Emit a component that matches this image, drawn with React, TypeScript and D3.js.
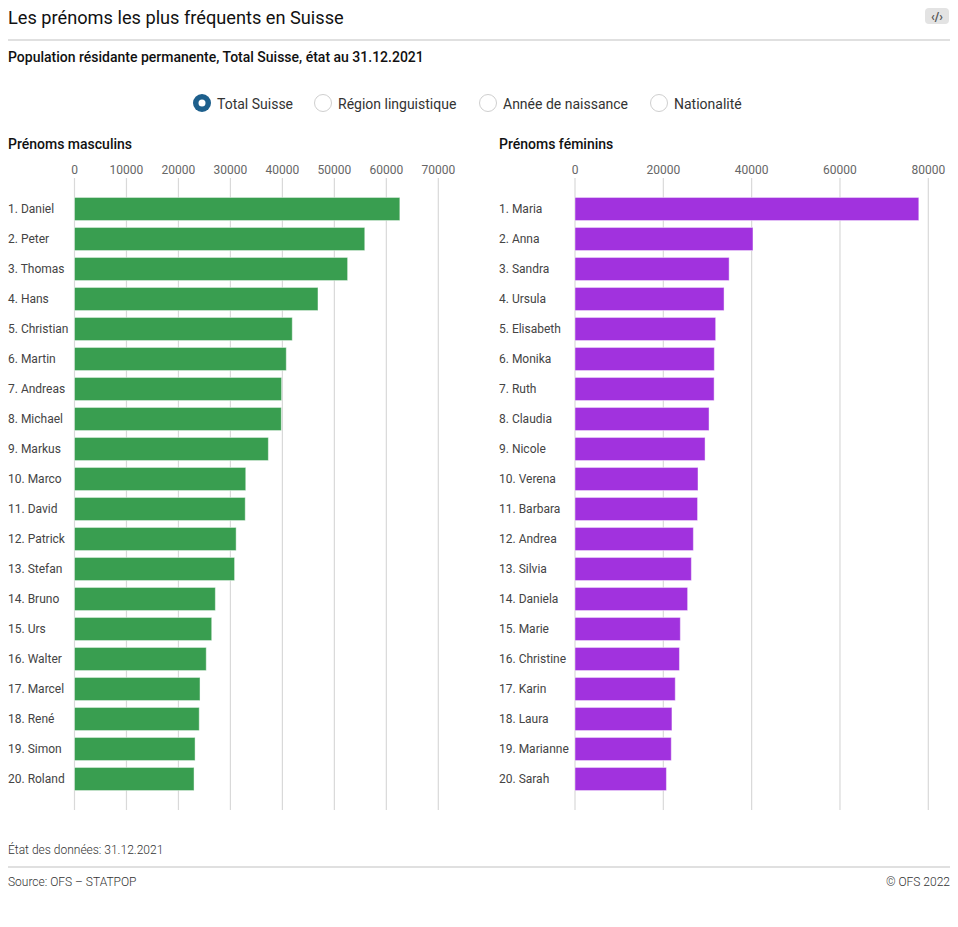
import React, { useRef, useEffect } from 'react';
import * as d3 from 'd3';

const maleNames = ['Daniel', 'Peter', 'Thomas', 'Hans', 'Christian', 'Martin', 'Andreas', 'Michael', 'Markus', 'Marco',
  'David', 'Patrick', 'Stefan', 'Bruno', 'Urs', 'Walter', 'Marcel', 'René', 'Simon', 'Roland'];
const maleValues = [62600, 55850, 52550, 46850, 41900, 40750, 39850, 39800, 37300, 32950,
  32850, 31100, 30800, 27100, 26400, 25350, 24150, 24000, 23200, 23000];
const maleTicks = [0, 10000, 20000, 30000, 40000, 50000, 60000, 70000];

const femaleNames = ['Maria', 'Anna', 'Sandra', 'Ursula', 'Elisabeth', 'Monika', 'Ruth', 'Claudia', 'Nicole', 'Verena',
  'Barbara', 'Andrea', 'Silvia', 'Daniela', 'Marie', 'Christine', 'Karin', 'Laura', 'Marianne', 'Sarah'];
const femaleValues = [77850, 40300, 34900, 33750, 31850, 31550, 31500, 30350, 29450, 27850,
  27750, 26800, 26350, 25500, 23850, 23650, 22700, 21950, 21800, 20700];
const femaleTicks = [0, 20000, 40000, 60000, 80000];

const options = ['Total Suisse', 'Région linguistique', 'Année de naissance', 'Nationalité'];

const App = () => {
  const ref = useRef(null);

  useEffect(() => {
    if (!ref.current) return;
    d3.select(ref.current).select('svg').remove();
    const width = 958;
    const height = 927;
    const font = 'Roboto, sans-serif';

    const svg = d3.select(ref.current)
      .append('svg')
      .attr('width', width)
      .attr('height', height)
      .style('position', 'absolute')
      .style('left', 0)
      .style('top', 0)
      .style('font-family', font);

    svg.append('rect').attr('width', width).attr('height', height).attr('fill', '#fff');

    // header
    svg.append('text').attr('x', 8).attr('y', 24).attr('font-size', 18.2).attr('fill', '#111')
      .text('Les prénoms les plus fréquents en Suisse');
    const icon = svg.append('g').attr('transform', 'translate(937,16)');
    icon.append('rect').attr('x', -12).attr('y', -8).attr('width', 24).attr('height', 16).attr('rx', 4).attr('fill', '#e3e3e3');
    icon.append('text').attr('text-anchor', 'middle').attr('y', 4.5).attr('font-size', 12).attr('font-weight', 700)
      .attr('fill', '#555').text('‹/›');
    svg.append('line').attr('x1', 8).attr('x2', 950).attr('y1', 40).attr('y2', 40).attr('stroke', '#e0e0e0').attr('stroke-width', 2);
    svg.append('text').attr('x', 8).attr('y', 62).attr('font-size', 14).attr('font-weight', 500).attr('fill', '#111')
      .text('Population résidante permanente, Total Suisse, état au 31.12.2021');

    // radio buttons
    const radioX = [202, 323, 488, 659];
    options.forEach((o, i) => {
      const g = svg.append('g').attr('transform', `translate(${radioX[i]},103)`);
      if (i === 0) {
        g.append('circle').attr('r', 9).attr('fill', '#1d5f8c');
        g.append('circle').attr('r', 3.5).attr('fill', '#fff');
      } else {
        g.append('circle').attr('r', 8.5).attr('fill', '#fff').attr('stroke', '#cfcfcf').attr('stroke-width', 1);
      }
      g.append('text').attr('x', 15).attr('y', 5.5).attr('font-size', 14).attr('fill', '#333').text(o);
    });

    const drawPanel = (names, values, ticks, x0, x1, domainMax, labelX, title, color) => {
      const g = svg.append('g');
      g.append('text').attr('x', labelX).attr('y', 149).attr('font-size', 14).attr('font-weight', 500).attr('fill', '#111').text(title);
      const x = d3.scaleLinear().domain([0, domainMax]).range([x0, x1]);
      const y = d3.scaleBand().domain(names.map((n, i) => `${i + 1}. ${n}`)).range([194, 794]).paddingInner(0.23).paddingOuter(0.115);

      g.selectAll('line.grid').data(ticks).enter().append('line')
        .attr('x1', d => x(d)).attr('x2', d => x(d)).attr('y1', 178).attr('y2', 810)
        .attr('stroke', '#d9d9d9').attr('stroke-width', 1.2);
      g.selectAll('text.tick').data(ticks).enter().append('text')
        .attr('x', d => x(d)).attr('y', 174).attr('text-anchor', 'middle')
        .attr('font-size', 12).attr('fill', '#666').text(d => String(d));

      const rows = names.map((n, i) => ({ label: `${i + 1}. ${n}`, v: values[i] }));
      g.selectAll('rect.bar').data(rows).enter().append('rect')
        .attr('x', x(0)).attr('y', d => y(d.label)).attr('width', d => x(d.v) - x(0)).attr('height', y.bandwidth())
        .attr('fill', color).attr('stroke', 'rgba(255,255,255,0.45)').attr('stroke-width', 1);
      g.selectAll('text.lab').data(rows).enter().append('text')
        .attr('x', labelX).attr('y', d => y(d.label) + y.bandwidth() / 2 + 4)
        .attr('font-size', 12).attr('fill', '#444').text(d => d.label);
    };

    drawPanel(maleNames, maleValues, maleTicks, 74.5, 438.3, 70000, 8, 'Prénoms masculins', '#399e50');
    drawPanel(femaleNames, femaleValues, femaleTicks, 575, 928.3, 80000, 499, 'Prénoms féminins', '#a132de');

    // footer
    svg.append('text').attr('x', 8).attr('y', 854).attr('font-size', 12).attr('font-weight', 300).attr('fill', '#333').text('État des données: 31.12.2021');
    svg.append('line').attr('x1', 8).attr('x2', 950).attr('y1', 867).attr('y2', 867).attr('stroke', '#e0e0e0').attr('stroke-width', 2);
    svg.append('text').attr('x', 8).attr('y', 886).attr('font-size', 12).attr('font-weight', 300).attr('fill', '#333').text('Source: OFS – STATPOP');
    svg.append('text').attr('x', 950).attr('y', 886).attr('text-anchor', 'end').attr('font-size', 12).attr('font-weight', 300).attr('fill', '#333').text('© OFS 2022');
  }, []);

  return <div className="chart-container" ref={ref}></div>;
};

export default App;
